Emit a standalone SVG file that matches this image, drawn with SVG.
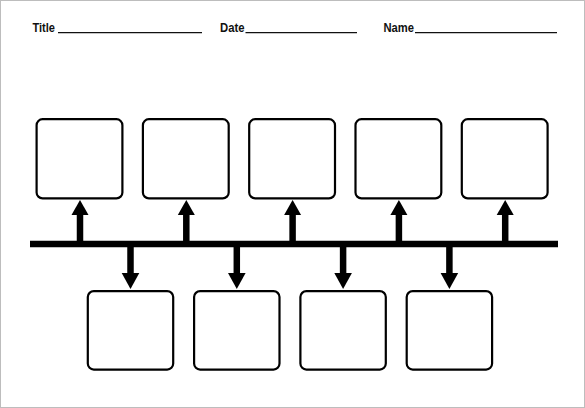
<svg xmlns="http://www.w3.org/2000/svg" width="585" height="408" viewBox="0 0 585 408">
<style>
.hdr{font-family:"Liberation Sans",Arial,sans-serif;font-weight:bold;font-size:12px;fill:#111}
.ul{stroke:#111;stroke-width:1.3}
.box{fill:#fff;stroke:#000;stroke-width:2.2}
.stem{stroke:#000;stroke-width:6.5}
.head{fill:#000}
</style>
<rect x="0.5" y="0.5" width="584" height="407" fill="#fff" stroke="#bdbdbd" stroke-width="1"/>
<g id="header">
<text class="hdr" x="32.5" y="31.8" textLength="22.5" lengthAdjust="spacingAndGlyphs">Title</text>
<line class="ul" x1="58" y1="32.6" x2="202" y2="32.6"/>
<text class="hdr" x="220" y="31.8" textLength="24.5" lengthAdjust="spacingAndGlyphs">Date</text>
<line class="ul" x1="245.5" y1="32.6" x2="357" y2="32.6"/>
<text class="hdr" x="383.5" y="31.8" textLength="30.5" lengthAdjust="spacingAndGlyphs">Name</text>
<line class="ul" x1="415" y1="32.6" x2="557" y2="32.6"/>
</g>
<g id="connectors">
<line x1="30" y1="244" x2="558" y2="244" stroke="#000" stroke-width="6.5"/>
<line class="stem" x1="80" y1="244" x2="80" y2="213"/>
<polygon class="head" points="71.5,215 80,200 88.5,215"/>
<line class="stem" x1="186.3" y1="244" x2="186.3" y2="213"/>
<polygon class="head" points="177.8,215 186.3,200 194.8,215"/>
<line class="stem" x1="292.6" y1="244" x2="292.6" y2="213"/>
<polygon class="head" points="284.1,215 292.6,200 301.1,215"/>
<line class="stem" x1="398.9" y1="244" x2="398.9" y2="213"/>
<polygon class="head" points="390.4,215 398.9,200 407.4,215"/>
<line class="stem" x1="505.2" y1="244" x2="505.2" y2="213"/>
<polygon class="head" points="496.7,215 505.2,200 513.7,215"/>
<line class="stem" x1="130.5" y1="244" x2="130.5" y2="275"/>
<polygon class="head" points="121.7,273 130.5,289 139.3,273"/>
<line class="stem" x1="236.8" y1="244" x2="236.8" y2="275"/>
<polygon class="head" points="228,273 236.8,289 245.6,273"/>
<line class="stem" x1="343.1" y1="244" x2="343.1" y2="275"/>
<polygon class="head" points="334.3,273 343.1,289 351.9,273"/>
<line class="stem" x1="449.4" y1="244" x2="449.4" y2="275"/>
<polygon class="head" points="440.6,273 449.4,289 458.2,273"/>
</g>
<g id="top1"><rect class="box" x="36.6" y="119.2" width="85.8" height="79.2" rx="6"/></g>
<g id="top2"><rect class="box" x="142.9" y="119.2" width="85.8" height="79.2" rx="6"/></g>
<g id="top3"><rect class="box" x="249.2" y="119.2" width="85.8" height="79.2" rx="6"/></g>
<g id="top4"><rect class="box" x="355.5" y="119.2" width="85.8" height="79.2" rx="6"/></g>
<g id="top5"><rect class="box" x="461.8" y="119.2" width="85.8" height="79.2" rx="6"/></g>
<g id="bottom1"><rect class="box" x="87.8" y="291.1" width="85.4" height="78.5" rx="6"/></g>
<g id="bottom2"><rect class="box" x="194.1" y="291.1" width="85.4" height="78.5" rx="6"/></g>
<g id="bottom3"><rect class="box" x="300.4" y="291.1" width="85.4" height="78.5" rx="6"/></g>
<g id="bottom4"><rect class="box" x="406.7" y="291.1" width="85.4" height="78.5" rx="6"/></g>
</svg>
